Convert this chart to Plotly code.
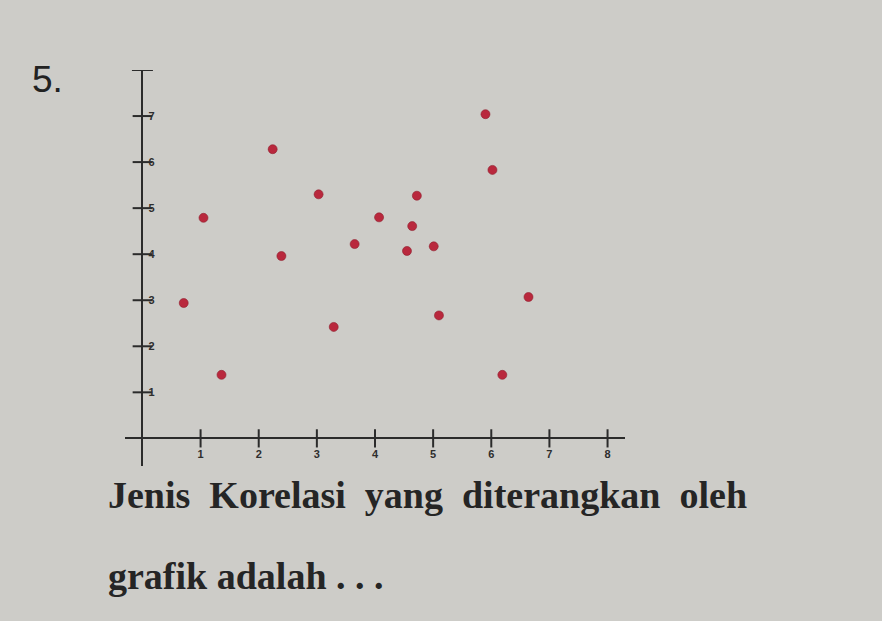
import plotly.graph_objects as go

# titik data
x_vals = [0.71, 1.05, 1.36, 2.24, 2.39, 3.03, 3.29, 3.65, 4.07,
          4.72, 4.64, 4.55, 5.01, 5.10, 5.90, 6.02, 6.64, 6.19]
y_vals = [2.94, 4.79, 1.38, 6.28, 3.96, 5.30, 2.42, 4.22, 4.80,
          5.27, 4.61, 4.07, 4.17, 2.67, 7.04, 5.83, 3.07, 1.38]

x_ticks = [1, 2, 3, 4, 5, 6, 7, 8]
y_ticks = [1, 2, 3, 4, 5, 6, 7]

x_range = [-0.3, 8.3]
y_range = [-0.6, 8.0]

nomor = "5."
baris_1 = "Jenis\u00a0\u00a0Korelasi\u00a0\u00a0yang\u00a0\u00a0diterangkan\u00a0\u00a0oleh"
baris_2 = "grafik adalah . . ."

ink = "#2b2b2b"
titik = "#b9283d"
kertas = "#cdccc8"

fig = go.Figure()

# tanda tick yang memotong sumbu
fig.add_trace(go.Scatter(
    x=x_ticks, y=[0] * len(x_ticks), mode="markers", hoverinfo="skip",
    marker=dict(symbol="line-ns", size=13, line=dict(color=ink, width=2)),
))
fig.add_trace(go.Scatter(
    x=[0] * len(y_ticks), y=y_ticks, mode="markers", hoverinfo="skip",
    marker=dict(symbol="line-ew", size=14, line=dict(color=ink, width=2)),
))
# ujung atas sumbu y
fig.add_trace(go.Scatter(
    x=[0], y=[y_range[1]], mode="markers", hoverinfo="skip",
    marker=dict(symbol="line-ew", size=15, line=dict(color=ink, width=2)),
))

fig.add_trace(go.Scatter(
    x=x_vals, y=y_vals, mode="markers",
    marker=dict(color=titik, size=9, line=dict(color="#8f1f2e", width=0.6)),
))

pos_x = (0 - x_range[0]) / (x_range[1] - x_range[0])
pos_y = (0 - y_range[0]) / (y_range[1] - y_range[0])

label_font = dict(family="Liberation Sans", size=11, color="#2e2e2e", weight="bold")
teks_font = dict(family="Liberation Serif", size=38, color="#252525", weight="bold")

fig.update_layout(
    width=882, height=621,
    margin=dict(l=125, r=257, t=70, b=155),
    paper_bgcolor=kertas, plot_bgcolor=kertas,
    showlegend=False,
    xaxis=dict(
        range=x_range, anchor="free", position=pos_y,
        showgrid=False, showline=False, zeroline=True,
        zerolinecolor=ink, zerolinewidth=2,
        tickvals=x_ticks, ticks="", ticklabelstandoff=8,
        tickfont=label_font,
    ),
    yaxis=dict(
        range=y_range, anchor="free", position=pos_x, side="right",
        showgrid=False, showline=False, zeroline=True,
        zerolinecolor=ink, zerolinewidth=2,
        tickvals=y_ticks, ticks="", ticklabelstandoff=5,
        tickfont=label_font,
    ),
    annotations=[
        dict(text=nomor, xref="paper", yref="paper", x=-0.19, y=0.975,
             xanchor="left", yanchor="middle", showarrow=False,
             font=dict(family="Liberation Sans", size=37, color="#222222")),
        dict(text=baris_1, xref="paper", yref="paper", x=-0.038, y=-0.073,
             xanchor="left", yanchor="middle", showarrow=False, font=teks_font),
        dict(text=baris_2, xref="paper", yref="paper", x=-0.038, y=-0.278,
             xanchor="left", yanchor="middle", showarrow=False, font=teks_font),
    ],
)

fig.write_html("out.html", config={"displayModeBar": False},
               post_script="document.body.style.margin='0';")
